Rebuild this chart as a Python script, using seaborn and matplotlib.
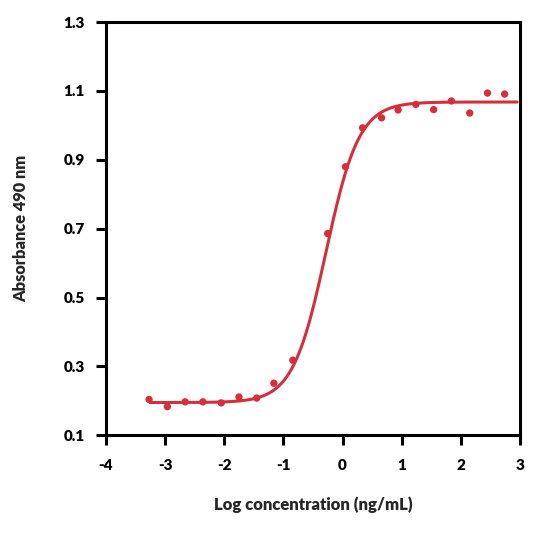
import numpy as np
import pandas as pd
import matplotlib
matplotlib.use('Agg')
import matplotlib.pyplot as plt
import seaborn as sns

# measured points (log10 ng/mL vs absorbance)
log_conc = [-3.27, -2.96, -2.66, -2.36, -2.05, -1.75, -1.45, -1.16, -0.84,
            -0.25, 0.05, 0.34, 0.66, 0.94, 1.24, 1.54, 1.84, 2.15, 2.45, 2.74]
absorbance = [0.204, 0.183, 0.197, 0.197, 0.194, 0.211, 0.208, 0.251, 0.318,
              0.686, 0.880, 0.993, 1.022, 1.045, 1.061, 1.046, 1.071, 1.036, 1.094, 1.091]

# 4PL fit
bottom, top, log_ec50, hill = 0.195, 1.068, -0.28, 1.55
curve_range = (-3.25, 2.95)

red = '#d62f3c'

sns.set_style('ticks')
plt.rcParams['font.family'] = ['Lato', 'DejaVu Sans']
plt.rcParams['axes.unicode_minus'] = False

fig = plt.figure(figsize=(5.4, 5.4), dpi=100)
ax = fig.add_axes([0.196, 0.194, 0.767, 0.765])

xs = np.linspace(curve_range[0], curve_range[1], 300)
fit = pd.DataFrame({'x': xs,
                    'y': bottom + (top - bottom) / (1 + 10 ** ((log_ec50 - xs) * hill))})
pts = pd.DataFrame({'x': log_conc, 'y': absorbance})

sns.lineplot(data=fit, x='x', y='y', color=red, linewidth=2.2, ax=ax)
sns.scatterplot(data=pts, x='x', y='y', color=red, s=28, edgecolor='none', ax=ax, zorder=3)

ax.set_xlim(-4, 3)
ax.set_ylim(0.1, 1.3)
ax.set_xticks(range(-4, 4))
ax.set_yticks([0.1, 0.3, 0.5, 0.7, 0.9, 1.1, 1.3])
ax.set_yticklabels(['0.1', '0.3', '0.5', '0.7', '0.9', '1.1', '1.3'])

for side in ['left', 'right', 'top', 'bottom']:
    ax.spines[side].set_visible(True)
    ax.spines[side].set_linewidth(2.2)
    ax.spines[side].set_color('black')

ax.tick_params(axis='both', direction='out', length=7, width=2.2, colors='black',
               labelsize=11)
ax.tick_params(axis='y', pad=8)
ax.tick_params(axis='x', pad=10)
for lab in ax.get_xticklabels() + ax.get_yticklabels():
    lab.set_fontweight('heavy')

ax.set_xlabel('Log concentration (ng/mL)', fontsize=12, fontweight='heavy', labelpad=18)
ax.set_ylabel('Absorbance 490 nm', fontsize=11.8, fontweight='heavy', labelpad=25)

fig.savefig('out.png', dpi=100)
